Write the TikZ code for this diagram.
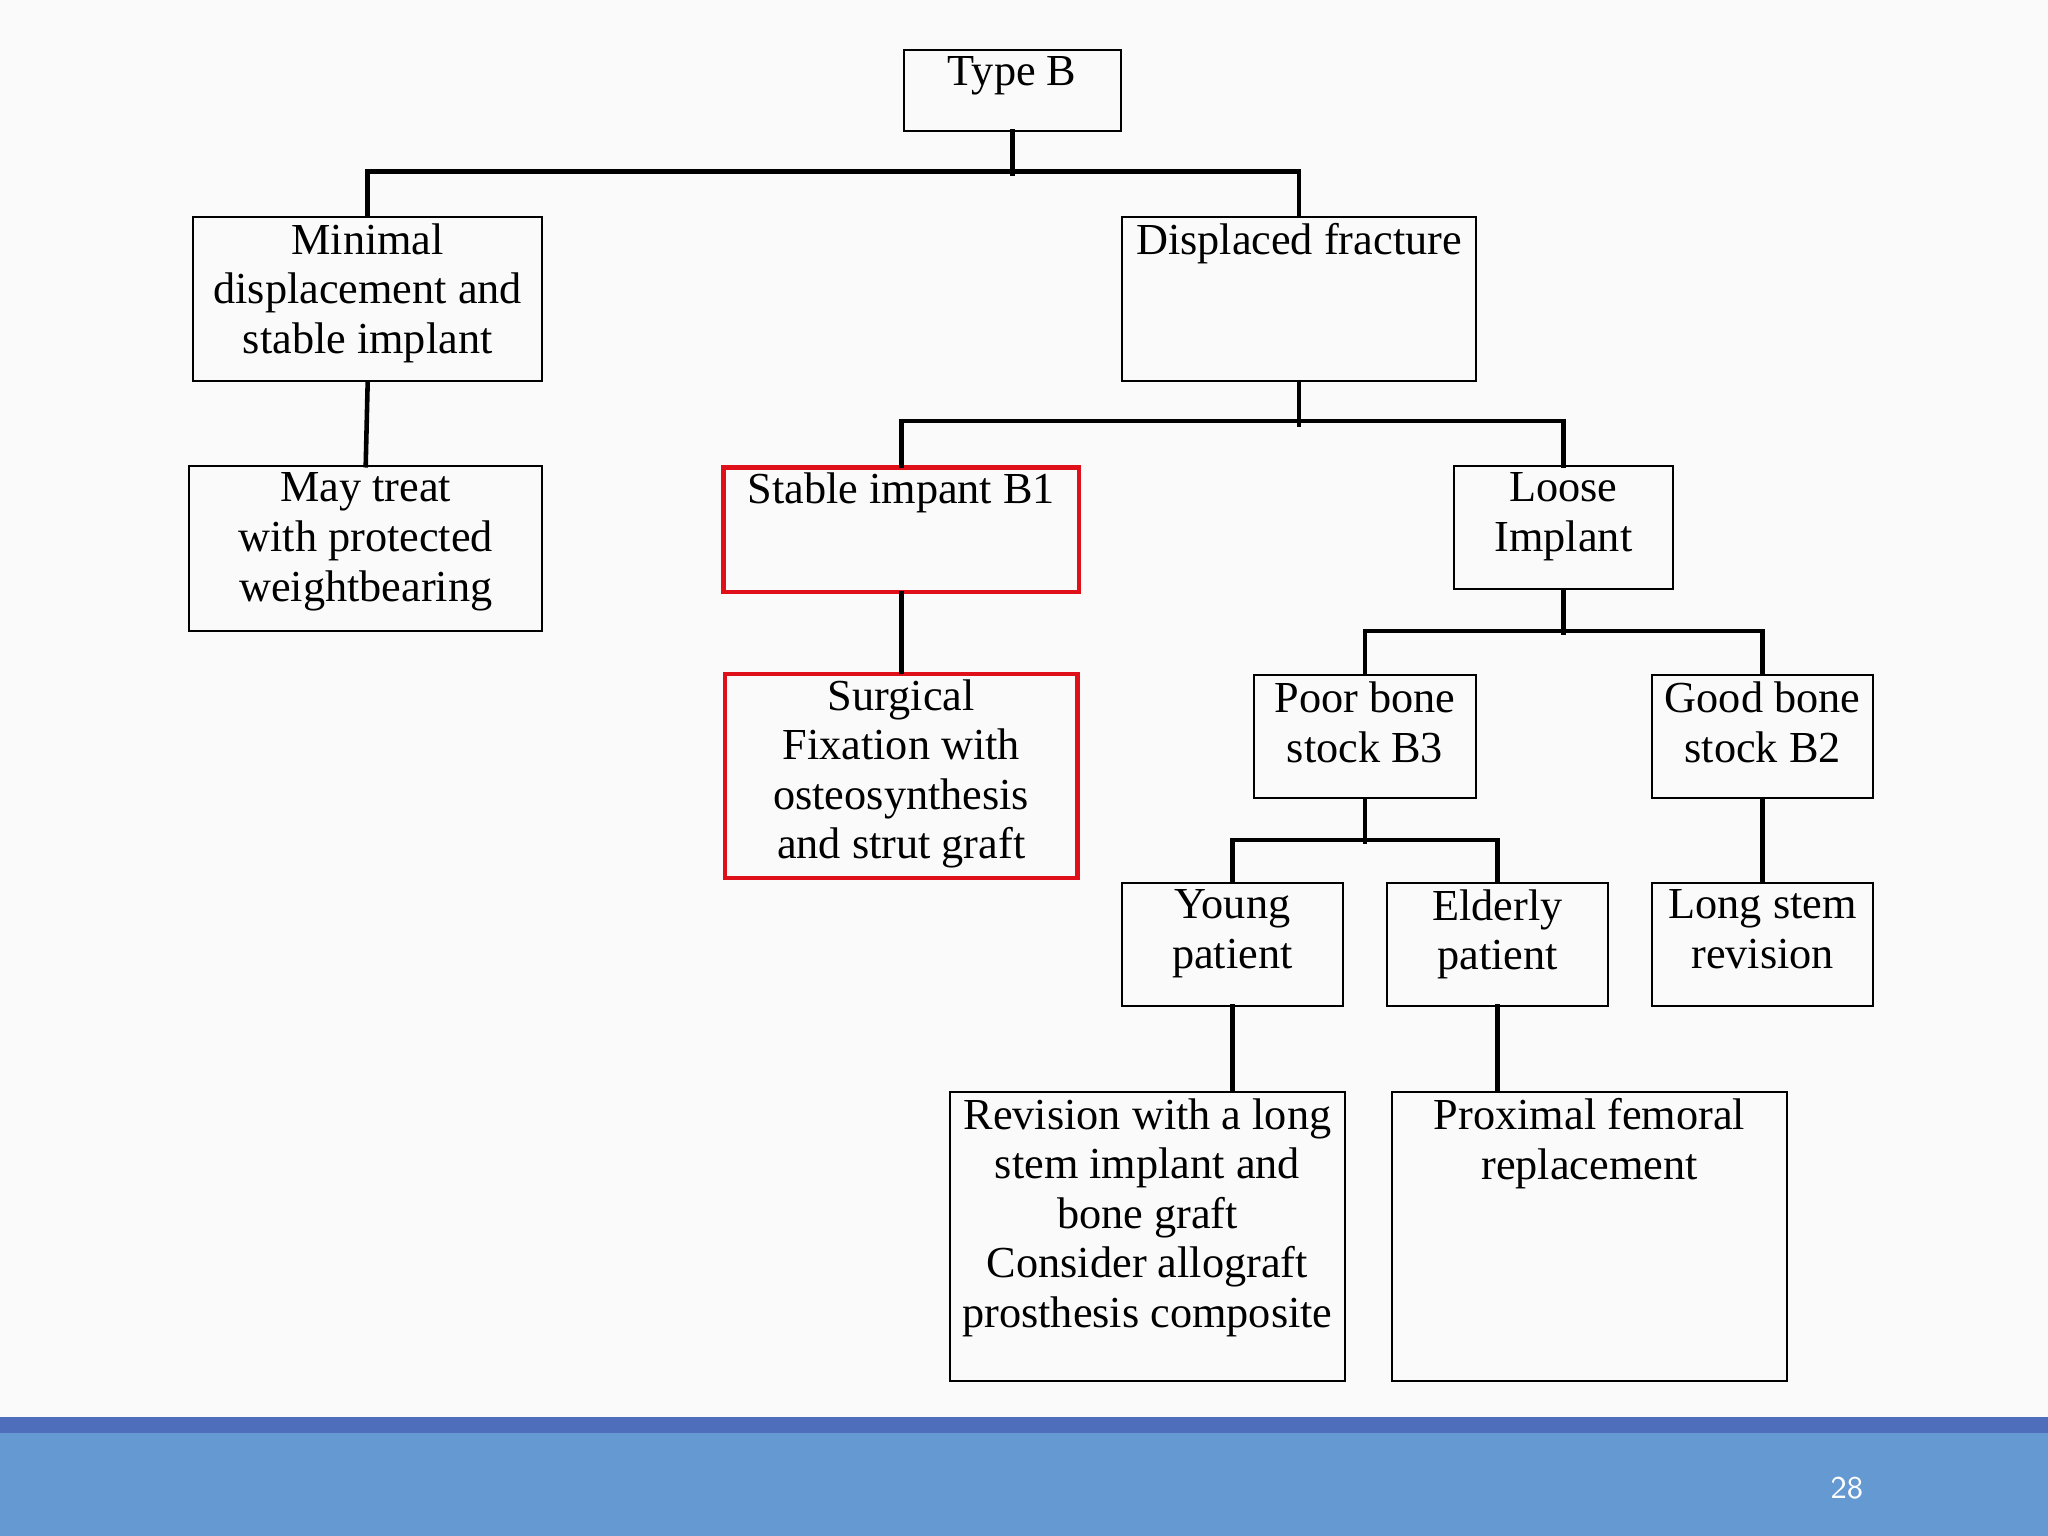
\documentclass[tikz,border=0pt]{standalone}
\usepackage{fontspec}
\setmainfont{Liberation Serif}
\usetikzlibrary{fit}
\definecolor{bandtop}{HTML}{4E6DBA}
\definecolor{band}{HTML}{6499D2}
\definecolor{redline}{HTML}{E0101A}
\tikzset{
  box/.style={draw,line width=0.6pt,inner sep=0pt},
  redbox/.style={draw=redline,line width=1.2pt,inner sep=0pt},
  lbl/.style={anchor=north,align=center,inner sep=2pt,font=\fontsize{12.6}{14.1}\selectfont},
  link/.style={line width=1.3pt,line cap=rect}
}
\newcommand{\bx}[6][box]{%
  \node[#1,fit={#3 #4}] (#2) {};
  \node[lbl] (#2-t) at (#2.north) {#5};}
\begin{document}
\begin{tikzpicture}[x=0.013061cm,y=-0.013061cm]
\useasboundingbox (0,0) rectangle (1568,1176);
\fill[white!98!black] (0,0) rectangle (1568,1085);
\fill[band] (0,1085) rectangle (1568,1176);
\fill[bandtop] (0,1085) rectangle (1568,1097);
\node[text=white,font=\sffamily\small] (page) at (1414,1139) {28};

% boxes
\bx{typeb}{(692,38)}{(858,100)}{Type B}{}
\bx{minimal}{(148,166)}{(415,292)}{Minimal\\displacement and\\stable implant}{}
\bx{displ}{(859,166)}{(1130,292)}{Displaced fracture}{}
\bx{maytreat}{(145,357)}{(415,483)}{May treat\\with protected\\weightbearing}{}
\bx[redbox]{stable}{(554,358)}{(826,453)}{Stable impant B1}{}
\bx{loose}{(1113,357)}{(1281,451)}{Loose\\Implant}{}
\bx[redbox]{surgical}{(555,516)}{(825,672)}{Surgical\\Fixation with\\osteosynthesis\\and strut graft}{}
\bx{poor}{(960,517)}{(1130,611)}{Poor bone\\stock B3}{}
\bx{good}{(1265,517)}{(1434,611)}{Good bone\\stock B2}{}
\bx{young}{(859,676)}{(1028,770)}{Young\\patient}{}
\bx{elderly}{(1062,676)}{(1231,770)}{Elderly\\patient}{}
\bx{longstem}{(1265,676)}{(1434,770)}{Long stem\\revision}{}
\bx{revision}{(727,836)}{(1030,1057)}{Revision with a long\\stem implant and\\bone graft\\Consider allograft\\prosthesis composite}{}
\bx{proximal}{(1066,836)}{(1368,1057)}{Proximal femoral\\replacement}{}

% connectors
\draw[link] (typeb.south) -- ++(0,32);
\draw[link] (minimal.north) -- ++(0,-34) -| (displ.north);
\draw[link] (minimal.south) -- (maytreat.north);
\draw[link] (displ.south) -- ++(0,32);
\draw[link] (stable.north) -- ++(0,-34) -| (loose.north);
\draw[link] (stable.south) -- (surgical.north);
\draw[link] (loose.south) -- ++(0,33);
\draw[link] (poor.north) -- ++(0,-33) -| (good.north);
\draw[link] (good.south) -- (longstem.north);
\draw[link] (poor.south) -- ++(0,33);
\draw[link] (young.north) -- ++(0,-32) -| (elderly.north);
\draw[link] (young.south) -- (young.south |- revision.north);
\draw[link] (elderly.south) -- (elderly.south |- proximal.north);
\end{tikzpicture}
\end{document}
